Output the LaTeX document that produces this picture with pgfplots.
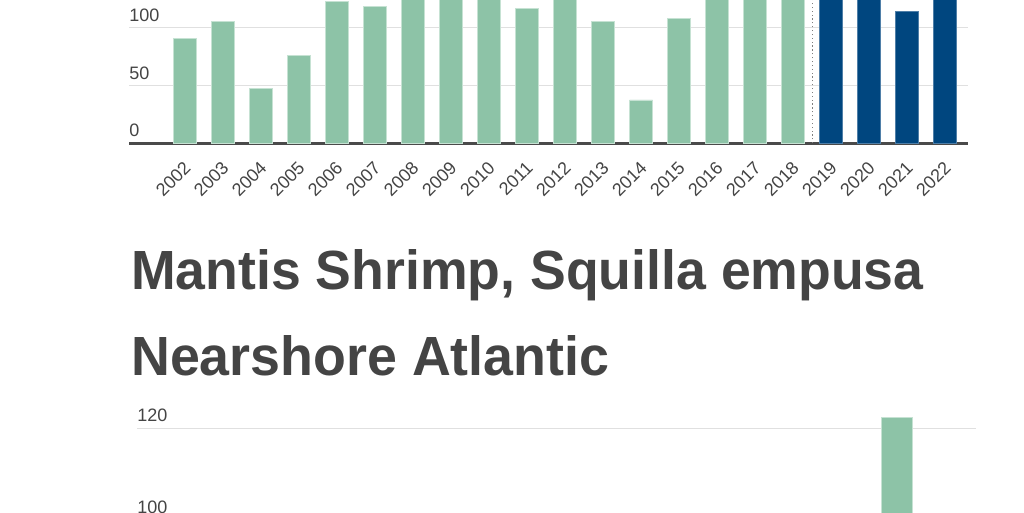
\documentclass[border=0pt]{standalone}
\usepackage{pgfplots}
\pgfplotsset{compat=1.18}
\usepackage{fontspec}
\setmainfont{Liberation Sans}
\definecolor{grn}{HTML}{8DC3A7}
\definecolor{grnl}{HTML}{C6E2D3}
\definecolor{blu}{HTML}{00467F}
\definecolor{blul}{HTML}{4F7FA8}
\definecolor{txt}{HTML}{444444}
\definecolor{grd}{HTML}{E0E0E0}
\definecolor{axl}{HTML}{4A4A4A}
\begin{document}
\begin{tikzpicture}
\useasboundingbox (0,0) rectangle (768pt,384pt);
% ---- top chart ----
\begin{axis}[
  at={(96.75pt,276.5pt)}, anchor=south west,
  scale only axis, width=629.25pt, height=107.5pt,
  xmin=2000.53, xmax=2022.6, ymin=0, ymax=124,
  axis x line*=bottom, axis y line*=left,
  x axis line style={draw=axl, line width=1.9pt, -},
  y axis line style={draw=none},
  tick style={draw=none},
  ytick={0,50,100}, ymajorgrids,
  grid style={draw=grd, line width=1.1pt},
  /pgf/number format/assume math mode=true,
  /pgf/number format/1000 sep={},
  yticklabel style={anchor=south west, inner sep=0pt, yshift=4.5pt,
    font=\fontsize{13.5}{13.5}\selectfont, text=txt},
  xtick={2002,...,2022},
  xticklabel style={xshift=2pt, yshift=-12pt, rotate=45, anchor=east, inner sep=0pt,
    font=\fontsize{13.5}{13.5}\selectfont, text=txt},
  ybar, bar width=17.25pt, bar shift=0pt,
  clip=true,
]
\addplot[fill=grn, draw=grnl, line width=0.6pt] coordinates {
 (2002,90.5) (2003,105.8) (2004,47.6) (2005,76.4) (2006,123.1) (2007,118.2)
 (2008,135) (2009,135) (2010,135) (2011,117.0) (2012,135) (2013,105.8)
 (2014,37.5) (2015,108.4) (2016,135) (2017,135) (2018,135)};
\addplot[fill=blu, draw=blul, line width=0.6pt] coordinates {
 (2019,135) (2020,135) (2021,114.4) (2022,135)};
\addplot[sharp plot, draw=gray, dotted, line width=0.9pt, forget plot]
 coordinates {(2018.5,0) (2018.5,130)};
\end{axis}
% ---- title ----
\node[anchor=base west, inner sep=0pt, text=txt] at (98.25pt,167pt)
  {\resizebox{594pt}{30pt}{\bfseries Mantis Shrimp, Squilla empusa}};
\node[anchor=base west, inner sep=0pt, text=txt] at (98.25pt,102.75pt)
  {\resizebox{358.5pt}{30pt}{\bfseries Nearshore Atlantic}};
% ---- bottom chart ----
\begin{axis}[
  at={(102.75pt,-6.75pt)}, anchor=south west,
  scale only axis, width=629.25pt, height=104.3pt,
  xmin=0, xmax=839, ymin=100, ymax=130,
  axis x line=none, axis y line*=left,
  y axis line style={draw=none},
  tick style={draw=none},
  xtick=\empty,
  ytick={100,120}, ymajorgrids,
  grid style={draw=grd, line width=1.1pt},
  /pgf/number format/assume math mode=true,
  yticklabel style={anchor=south west, inner sep=0pt, yshift=5pt,
    font=\fontsize{13.5}{13.5}\selectfont, text=txt},
  ybar, bar width=22.95pt, bar shift=0pt,
  clip=true,
]
\addplot[fill=grn, draw=grnl, line width=0.6pt] coordinates {(760,122.4)};
\end{axis}
\end{tikzpicture}
\end{document}
